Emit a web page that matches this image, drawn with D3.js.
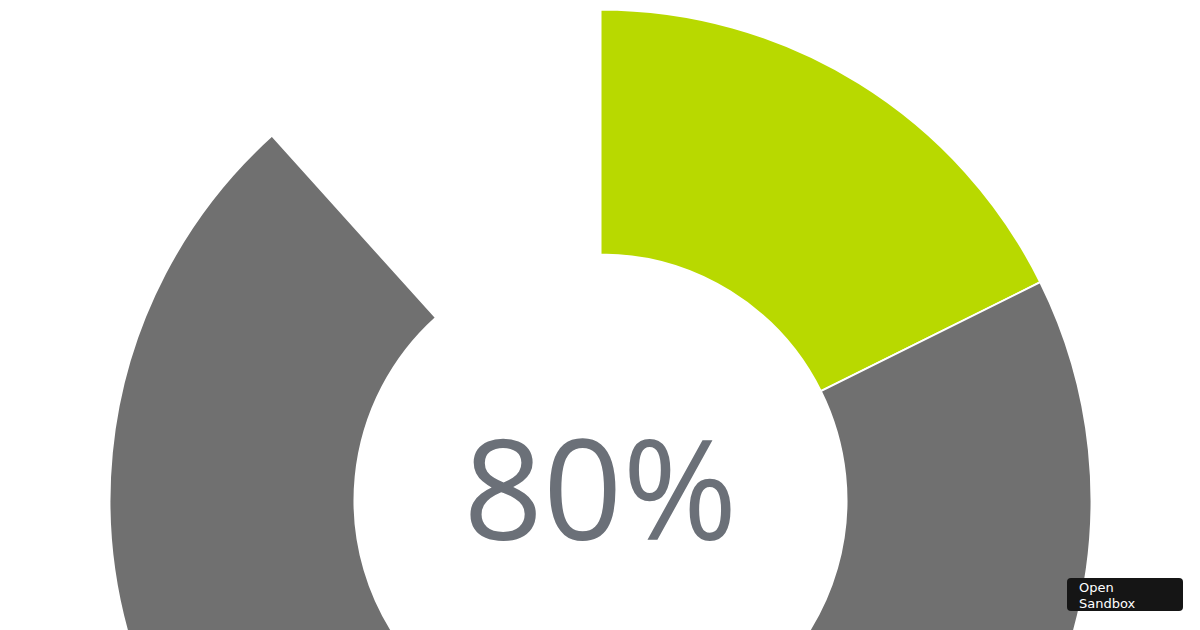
<!DOCTYPE html>
<html>
<head>
<meta charset="utf-8">
<script src="https://cdn.jsdelivr.net/npm/d3@7"></script>
<style>
  body { margin: 0; background: #fff; }
  #btn {
    position: absolute; left: 1067px; top: 578px; width: 116px; height: 33px;
    background: #151515; border-radius: 4px; color: #fff; box-sizing: border-box;
    padding: 2px 12px; font: 13px/16px "DejaVu Sans", sans-serif;
  }
</style>
</head>
<body>
<div id="viz"></div>
<div id="btn">Open<br>Sandbox</div>
<script>
// gauge data
const labels = ["done", "rest"]
const values = [20, 80]
const colors = ["#b8d900", "#707070"]
const centerText = "80%"

const width = 1200
const height = 630

const svg = d3.select("#viz").append("svg")
    .attr("width", width)
    .attr("height", height)
    .style("display", "block")

const g = svg.append("g").attr("transform", "translate(600.5,500.5)")

// pie sweeps from the top clockwise, leaving a gap on the upper left
const pie = d3.pie().sort(null).startAngle(0).endAngle(318 * Math.PI / 180)
const arc = d3.arc().innerRadius(246).outerRadius(491)

g.selectAll("path")
    .data(pie(values))
    .enter()
    .append("path")
    .attr("d", arc)
    .attr("fill", (d, i) => colors[i])
    .attr("stroke", "#fff")
    .attr("stroke-width", 2)

g.append("text")
    .attr("y", 39)
    .attr("text-anchor", "middle")
    .style("font-family", "'Open Sans', sans-serif")
    .style("font-size", "139px")
    .attr("fill", "#6b7078")
    .text(centerText)
</script>
</body>
</html>
